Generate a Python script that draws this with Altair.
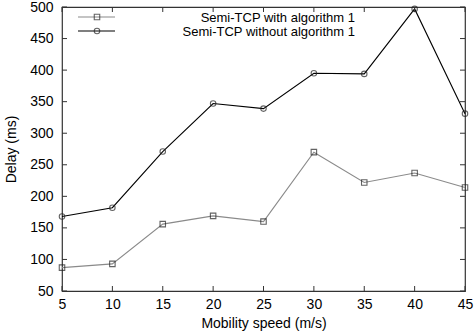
import altair as alt
import pandas as pd

speeds = [5, 10, 15, 20, 25, 30, 35, 40, 45]
with_alg = [87, 93, 156, 169, 160, 270, 222, 237, 214]
without_alg = [168, 182, 271, 347, 339, 395, 394, 497, 331]
series_names = ["Semi-TCP with algorithm 1", "Semi-TCP without algorithm 1"]
x_ticks = [5, 10, 15, 20, 25, 30, 35, 40, 45]
y_ticks = [50, 100, 150, 200, 250, 300, 350, 400, 450, 500]

W, H = 403, 284
FONT = "Liberation Sans"
FS = 14

rows = []
for s, vals in zip(series_names, [with_alg, without_alg]):
    for x, v in zip(speeds, vals):
        rows.append({"speed": x, "delay": v, "series": s})
df = pd.DataFrame(rows)

xs = alt.Scale(domain=[5, 45], nice=False, zero=False)
ys = alt.Scale(domain=[50, 500], nice=False, zero=False)

x_axis = alt.Axis(values=x_ticks, tickSize=0, domain=False, grid=False,
                  labelOverlap=False, labelFlush=False,
                  labelPadding=6, title="Mobility speed (m/s)", titlePadding=5)
y_axis = alt.Axis(values=y_ticks, tickSize=0, domain=False, grid=False,
                  labelOverlap=False, labelFlush=False,
                  labelPadding=9, title="Delay (ms)", titlePadding=11)

line_colors = alt.Scale(domain=series_names, range=["#8a8a8a", "#000000"])
shapes = alt.Scale(domain=series_names, range=["square", "circle"])

base = alt.Chart(df)

lines = base.mark_line(strokeWidth=1.1).encode(
    x=alt.X("speed:Q", scale=xs, axis=x_axis),
    y=alt.Y("delay:Q", scale=ys, axis=y_axis),
    color=alt.Color("series:N", scale=line_colors, legend=None),
    detail="series:N",
)

points = base.mark_point(filled=False, size=30, strokeWidth=1.1, color="#222").encode(
    x=alt.X("speed:Q", scale=xs, axis=x_axis),
    y=alt.Y("delay:Q", scale=ys, axis=y_axis),
    shape=alt.Shape("series:N", scale=shapes, legend=None),
)

xt = pd.DataFrame({"t": x_ticks})
yt = pd.DataFrame({"t": y_ticks})
tick_color = "#333"
xb = alt.Chart(xt).mark_rule(color=tick_color).encode(
    x=alt.X("t:Q", scale=xs, axis=x_axis), y=alt.value(H), y2=alt.value(H - 5))
xtp = alt.Chart(xt).mark_rule(color=tick_color).encode(
    x=alt.X("t:Q", scale=xs, axis=x_axis), y=alt.value(0), y2=alt.value(5))
yl = alt.Chart(yt).mark_rule(color=tick_color).encode(
    y=alt.Y("t:Q", scale=ys, axis=y_axis), x=alt.value(0), x2=alt.value(5))
yr = alt.Chart(yt).mark_rule(color=tick_color).encode(
    y=alt.Y("t:Q", scale=ys, axis=y_axis), x=alt.value(W), x2=alt.value(W - 5))

# legend (manual, gnuplot style)
leg_layers = []
leg_y = [10, 24]
leg_style = [("#8a8a8a", "square"), ("#000000", "circle")]
for name, yy, (col, shp) in zip(series_names, leg_y, leg_style):
    ld = pd.DataFrame({"series": [name]})
    leg_layers.append(alt.Chart(ld).mark_rule(color=col, strokeWidth=1.1).encode(
        x=alt.value(16), x2=alt.value(53), y=alt.value(yy)))
    leg_layers.append(alt.Chart(ld).mark_point(shape=shp, filled=False, size=30,
                                               strokeWidth=1.1, color="#222").encode(
        x=alt.value(35), y=alt.value(yy)))
    leg_layers.append(alt.Chart(ld).mark_text(align="right", baseline="middle",
                                              font=FONT, fontSize=13, color="#000").encode(
        x=alt.value(293), y=alt.value(yy + 0.5), text="series:N"))

chart = alt.layer(lines, points, xb, xtp, yl, yr, *leg_layers).properties(
    width=W, height=H,
    autosize=alt.AutoSizeParams(type="none"),
    padding={"left": 62, "top": 7, "right": 9, "bottom": 42},
    background="white",
).configure_view(stroke="#333", strokeWidth=1.2).configure_axis(
    labelFont=FONT, labelFontSize=FS, labelColor="#000", labelOverlap=False,
    titleFont=FONT, titleFontSize=FS, titleFontWeight="normal", titleColor="#000",
)

chart.save("out.html", embed_options={"renderer": "svg", "actions": False})
